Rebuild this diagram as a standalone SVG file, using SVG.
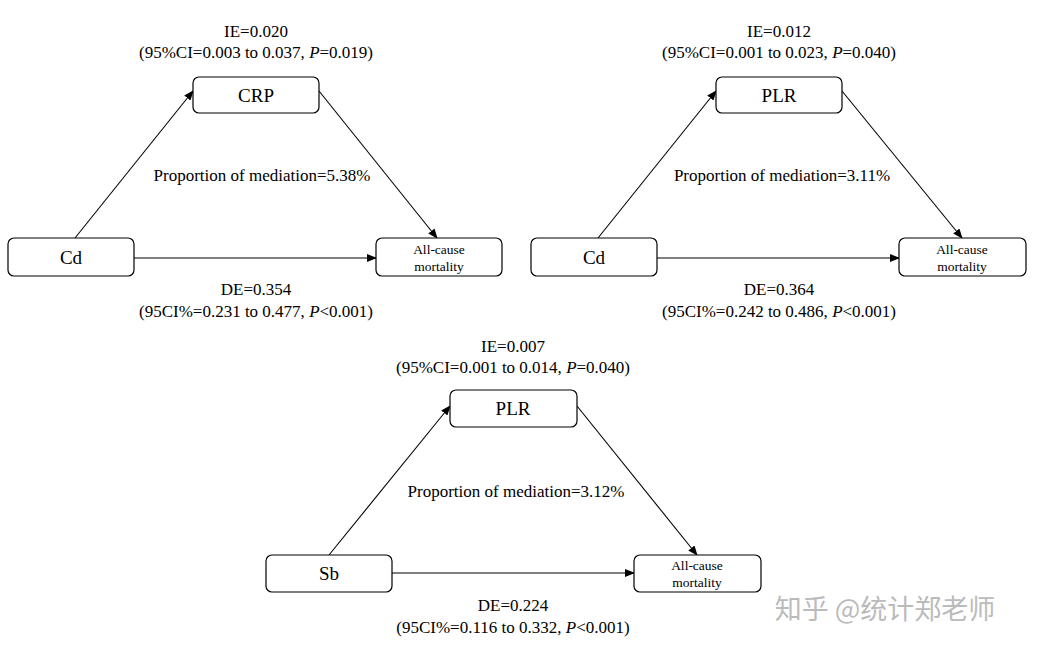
<svg xmlns="http://www.w3.org/2000/svg" width="1037" height="653" viewBox="0 0 1037 653">
<defs><marker id="a" markerWidth="10" markerHeight="8" refX="9" refY="4" orient="auto" markerUnits="userSpaceOnUse"><path d="M0,0 L10,4 L0,8 Z" fill="#000"/></marker></defs>
<style>
text{font-family:"Liberation Serif",serif;fill:#000;text-anchor:middle}
.t{font-size:17px}.b{font-size:19px}.s{font-size:13.5px}
rect.n{fill:#fff;stroke:#000;stroke-width:1.2}
line{stroke:#000;stroke-width:1.1;marker-end:url(#a)}
</style>
<rect width="1037" height="653" style="fill:#fff;stroke:none"/>
<g id="connectors">
<line x1="75" y1="238" x2="193" y2="91"/><line x1="319" y1="91" x2="437" y2="238"/><line x1="134" y1="258" x2="376" y2="258"/>
<line x1="598" y1="238" x2="716" y2="91"/><line x1="842" y1="91" x2="962" y2="238"/><line x1="657" y1="258" x2="899" y2="258"/>
<line x1="329" y1="555" x2="450" y2="406"/><line x1="577" y1="406" x2="697" y2="555"/><line x1="392" y1="573" x2="634" y2="573"/>
</g>
<g id="crp"><rect class="n" x="193" y="77" width="126" height="36" rx="6"/><text class="b" x="256" y="102">CRP</text></g>
<g id="cd1"><rect class="n" x="8" y="238" width="126" height="38" rx="6"/><text class="b" x="71" y="264">Cd</text></g>
<g id="ac1"><rect class="n" x="376" y="238" width="126" height="38" rx="6"/><text class="s" x="439" y="254">All-cause</text><text class="s" x="439" y="271">mortality</text></g>
<g id="plr1"><rect class="n" x="716" y="77" width="126" height="36" rx="6"/><text class="b" x="779" y="102">PLR</text></g>
<g id="cd2"><rect class="n" x="531" y="238" width="126" height="38" rx="6"/><text class="b" x="594" y="264">Cd</text></g>
<g id="ac2"><rect class="n" x="899" y="238" width="127" height="38" rx="6"/><text class="s" x="962" y="254">All-cause</text><text class="s" x="962" y="271">mortality</text></g>
<g id="plr2"><rect class="n" x="450" y="390" width="127" height="37" rx="6"/><text class="b" x="513" y="415">PLR</text></g>
<g id="sb"><rect class="n" x="266" y="555" width="126" height="37" rx="6"/><text class="b" x="329" y="580">Sb</text></g>
<g id="ac3"><rect class="n" x="634" y="555" width="127" height="37" rx="6"/><text class="s" x="697" y="570">All-cause</text><text class="s" x="697" y="587">mortality</text></g>
<g id="labels">
<text class="t" x="256" y="37">IE=0.020</text><text class="t" x="256" y="58">(95%CI=0.003 to 0.037, <tspan font-style="italic">P</tspan>=0.019)</text>
<text class="t" x="262" y="181">Proportion of mediation=5.38%</text>
<text class="t" x="256" y="295">DE=0.354</text><text class="t" x="256" y="317">(95CI%=0.231 to 0.477, <tspan font-style="italic">P</tspan>&lt;0.001)</text>
<text class="t" x="779" y="37">IE=0.012</text><text class="t" x="779" y="58">(95%CI=0.001 to 0.023, <tspan font-style="italic">P</tspan>=0.040)</text>
<text class="t" x="782" y="181">Proportion of mediation=3.11%</text>
<text class="t" x="779" y="295">DE=0.364</text><text class="t" x="779" y="317">(95CI%=0.242 to 0.486, <tspan font-style="italic">P</tspan>&lt;0.001)</text>
<text class="t" x="513" y="352">IE=0.007</text><text class="t" x="513" y="373">(95%CI=0.001 to 0.014, <tspan font-style="italic">P</tspan>=0.040)</text>
<text class="t" x="516" y="497">Proportion of mediation=3.12%</text>
<text class="t" x="513" y="611">DE=0.224</text><text class="t" x="513" y="633">(95CI%=0.116 to 0.332, <tspan font-style="italic">P</tspan>&lt;0.001)</text>
</g>
<text x="885" y="619" style="font-family:'Noto Sans CJK SC',sans-serif;font-size:27px;fill:#bbb">知乎 @统计郑老师</text>
</svg>
